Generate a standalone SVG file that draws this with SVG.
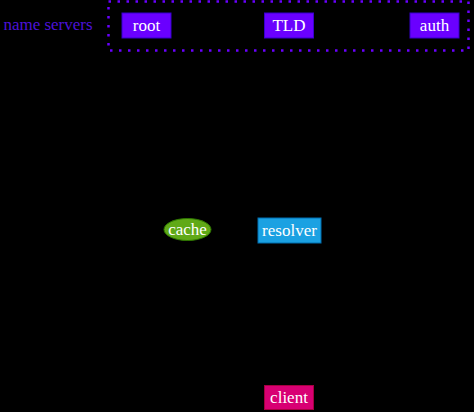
<svg xmlns="http://www.w3.org/2000/svg" width="474" height="412" viewBox="0 0 474 412">
<style>
text{font-family:"Liberation Serif","Times New Roman",serif;font-size:17px;fill:#fff;text-anchor:middle;dominant-baseline:central}
.ns{fill:#6a00ff;stroke:#3700cc;stroke-width:1}
</style>
<rect width="474" height="412" fill="#000"/>
<g id="group-nameservers">
<rect x="108.5" y="1.5" width="360" height="49" fill="none" stroke="#6a00ff" stroke-width="2.5" stroke-dasharray="2.5 6.5"/>
<text x="48" y="24.5" style="fill:#4c12d8">name servers</text>
</g>
<g id="connectors"></g>
<g id="root"><rect class="ns" x="122" y="13" width="49" height="25"/><text x="146.5" y="25">root</text></g>
<g id="tld"><rect class="ns" x="264.5" y="13" width="49" height="25"/><text x="289" y="25">TLD</text></g>
<g id="auth"><rect class="ns" x="410" y="13" width="49" height="25"/><text x="434.5" y="25">auth</text></g>
<g id="cache"><ellipse cx="187.5" cy="229.5" rx="23.5" ry="11" fill="#60a917" stroke="#2d7600"/><text x="187.5" y="229.5">cache</text></g>
<g id="resolver"><rect x="258" y="218" width="63" height="25" fill="#1ba1e2" stroke="#006eaf"/><text x="289.5" y="230">resolver</text></g>
<g id="client"><rect x="264.5" y="385.5" width="49" height="24" fill="#d80073" stroke="#a50040"/><text x="289" y="397">client</text></g>
</svg>
